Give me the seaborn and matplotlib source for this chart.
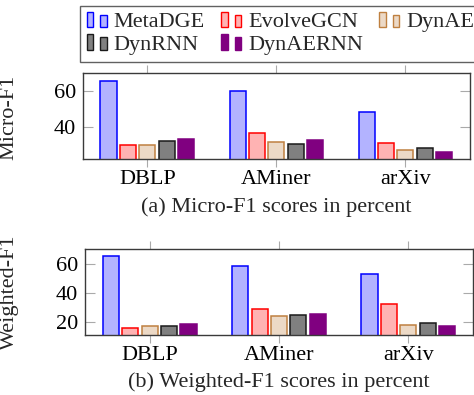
import numpy as np
import pandas as pd
import matplotlib
matplotlib.use("Agg")
import matplotlib.pyplot as plt
from matplotlib.patches import Rectangle
from matplotlib.legend_handler import HandlerBase
import seaborn as sns

# ---- data ----
datasets = ["DBLP", "AMiner", "arXiv"]
methods = ["MetaDGE", "EvolveGCN", "DynAE", "DynRNN", "DynAERNN"]
micro_metadge = [65.3, 59.8, 48.1]
micro_evolvegcn = [29.8, 36.4, 31.2]
micro_dynae = [30.0, 31.8, 27.2]
micro_dynrnn = [32.1, 30.3, 28.1]
micro_dynaernn = [33.4, 32.7, 26.3]
weighted_metadge = [65.6, 58.8, 52.6]
weighted_evolvegcn = [15.8, 28.8, 32.2]
weighted_dynae = [16.9, 24.0, 18.0]
weighted_dynrnn = [17.1, 24.4, 19.0]
weighted_dynaernn = [18.6, 25.6, 17.1]
micro_ticks = [40, 60]
weighted_ticks = [20, 40, 60]

fills = ["#b3b3ff", "#ffb3b3", "#ecd9c6", "#808080", "#800080"]
edges = ["#0000ff", "#ff0000", "#bf8040", "#1a1a1a", "#800080"]

def long_df(series):
    rows = []
    for m, vals in zip(methods, series):
        for d, v in zip(datasets, vals):
            rows.append({"dataset": d, "method": m, "value": v})
    return pd.DataFrame(rows)

df_micro = long_df([micro_metadge, micro_evolvegcn, micro_dynae, micro_dynrnn, micro_dynaernn])
df_weighted = long_df([weighted_metadge, weighted_evolvegcn, weighted_dynae, weighted_dynrnn, weighted_dynaernn])

sns.set_style("white")
plt.rcParams["font.family"] = ["Liberation Serif", "DejaVu Serif"]
FS = 16

W, H = 474, 395
fig = plt.figure(figsize=(W / 100, H / 100), dpi=100)

def px_axes(l, r, t, b):
    return fig.add_axes([l / W, 1 - b / H, (r - l) / W, (b - t) / H])

ax1 = px_axes(82.7, 470.0, 73.3, 159.0)
ax2 = px_axes(85.0, 473.0, 249.3, 334.7)

def draw(ax, df, ylim, yticks):
    sns.barplot(data=df, x="dataset", y="value", hue="method", order=datasets,
                hue_order=methods, palette=fills, width=0.75, gap=0.17,
                linewidth=1.1, legend=False, ax=ax, errorbar=None)
    for cont, fc, ec in zip(ax.containers, fills, edges):
        for p in cont:
            p.set_facecolor(fc)
            p.set_edgecolor(ec)
            p.set_linewidth(1.1)
    ax.set_xlim(-0.5, 2.5)
    ax.set_ylim(*ylim)
    ax.set_yticks(yticks)
    ax.set_xlabel("")
    ax.set_ylabel("")
    for s in ax.spines.values():
        s.set_color("#3a3a3a")
        s.set_linewidth(1.0)
    ax.tick_params(axis="x", direction="out", length=6, width=0.8, color="#aaaaaa",
                   top=True, bottom=True, labelsize=FS, pad=2, labelcolor="black")
    ax.tick_params(axis="y", direction="in", length=7, width=0.8, color="#aaaaaa",
                   left=True, right=True, labelsize=FS, pad=5, labelcolor="black")

draw(ax1, df_micro, (22.3, 69.5), micro_ticks)
draw(ax2, df_weighted, (11.0, 70.0), weighted_ticks)

fig.text(9 / W, 1 - 117 / H, "Micro-F1", rotation=90, ha="center", va="center", fontsize=FS)
fig.text(9 / W, 1 - 292 / H, "Weighted-F1", rotation=90, ha="center", va="center", fontsize=FS)
fig.text(276.3 / W, 1 - 206.7 / H, "(a) Micro-F1 scores in percent", ha="center", va="center", fontsize=FS)
fig.text(279 / W, 1 - 381.7 / H, "(b) Weighted-F1 scores in percent", ha="center", va="center", fontsize=FS)

class TwoBar(HandlerBase):
    def create_artists(self, legend, orig_handle, xdescent, ydescent, width, height, fontsize, trans):
        fc = orig_handle.get_facecolor()
        ec = orig_handle.get_edgecolor()
        w = width * 0.32
        y0 = -ydescent - 0.05 * height
        r1 = Rectangle((-xdescent, y0), w, height * 1.1, facecolor=fc, edgecolor=ec, lw=1.0, transform=trans)
        r2 = Rectangle((-xdescent + width - w, y0), w, height * 0.9, facecolor=fc, edgecolor=ec, lw=1.0, transform=trans)
        return [r1, r2]

handles = {m: Rectangle((0, 0), 1, 1, facecolor=fc, edgecolor=ec) for m, fc, ec in zip(methods, fills, edges)}
# matplotlib fills legend columns first; this order gives rows as in the reference
leg_order = ["MetaDGE", "DynRNN", "EvolveGCN", "DynAERNN", "DynAE"]
leg = fig.legend([handles[m] for m in leg_order], leg_order, loc="lower left",
                 bbox_to_anchor=(80 / W, 1 - 61.7 / H),
                 bbox_transform=fig.transFigure, ncol=3, fontsize=FS, frameon=True,
                 fancybox=False, borderpad=0.3, handlelength=0.9, handleheight=0.6,
                 handletextpad=0.3, columnspacing=0.75, labelspacing=0.12, borderaxespad=0,
                 handler_map={Rectangle: TwoBar()})
leg.get_frame().set_edgecolor("#3a3a3a")
leg.get_frame().set_linewidth(1.0)

fig.savefig("out.png", dpi=100)
